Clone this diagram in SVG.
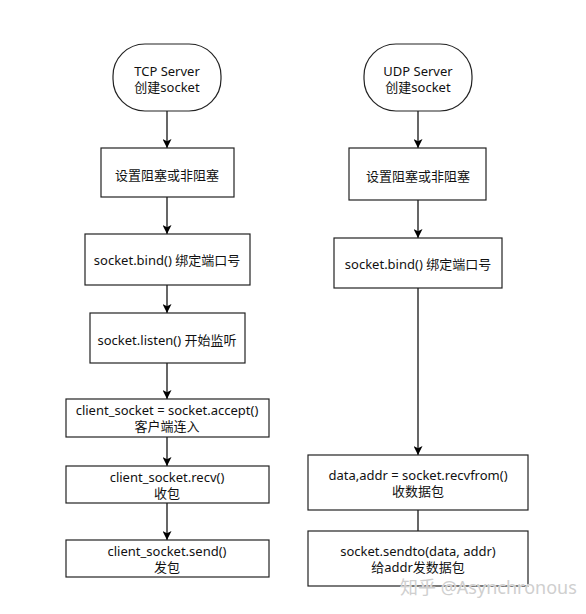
<svg xmlns="http://www.w3.org/2000/svg" width="586" height="614" viewBox="0 0 586 614">
<style>
.n{fill:#fff;stroke:#222;stroke-width:1.2}
.t{font-family:"Noto Sans","Noto Sans CJK SC",sans-serif;font-size:13px;fill:#111;text-anchor:middle;dominant-baseline:central}
.c{stroke:#000;stroke-width:1.2;fill:none}
.wm{font-family:"Noto Sans","Noto Sans CJK SC",sans-serif;font-size:18px;fill:#cfcfcf;stroke:#fff;stroke-width:0.6;paint-order:stroke}
</style>
<defs>
<marker id="ah" viewBox="0 0 10 10" refX="10" refY="5" markerWidth="9" markerHeight="9" markerUnits="userSpaceOnUse" orient="auto">
<path d="M0,0 L10,5 L0,10 L2.5,5 z" fill="#000"/>
</marker>
</defs>
<rect width="586" height="614" fill="#fff"/>
<g id="connectors">
<line class="c" x1="167" y1="111" x2="167" y2="148" marker-end="url(#ah)"/>
<line class="c" x1="167" y1="197" x2="167" y2="234" marker-end="url(#ah)"/>
<line class="c" x1="167" y1="285" x2="167" y2="313" marker-end="url(#ah)"/>
<line class="c" x1="167" y1="363" x2="167" y2="399" marker-end="url(#ah)"/>
<line class="c" x1="167" y1="437" x2="167" y2="466" marker-end="url(#ah)"/>
<line class="c" x1="167" y1="503" x2="167" y2="540" marker-end="url(#ah)"/>
<line class="c" x1="418" y1="111" x2="418" y2="148" marker-end="url(#ah)"/>
<line class="c" x1="418" y1="200" x2="418" y2="238" marker-end="url(#ah)"/>
<line class="c" x1="418" y1="288" x2="418" y2="455" marker-end="url(#ah)"/>
<line class="c" x1="418" y1="510" x2="418" y2="531"/>
</g>
<g id="tcp-start">
<rect class="n" x="113" y="44" width="108" height="67" rx="32" ry="32"/>
<text class="t" x="167" y="71">TCP Server</text>
<text class="t" x="167" y="87">创建socket</text>
</g>
<g id="tcp-block">
<rect class="n" x="101" y="148" width="133" height="49"/>
<text class="t" x="167" y="175">设置阻塞或非阻塞</text>
</g>
<g id="tcp-bind">
<rect class="n" x="85" y="234" width="165" height="51"/>
<text class="t" x="167" y="260">socket.bind() 绑定端口号</text>
</g>
<g id="tcp-listen">
<rect class="n" x="90" y="313" width="155" height="50"/>
<text class="t" x="167" y="340">socket.listen() 开始监听</text>
</g>
<g id="tcp-accept">
<rect class="n" x="66" y="399" width="203" height="38"/>
<text class="t" x="167" y="410">client_socket = socket.accept()</text>
<text class="t" x="167" y="426">客户端连入</text>
</g>
<g id="tcp-recv">
<rect class="n" x="66" y="466" width="203" height="37"/>
<text class="t" x="167" y="477">client_socket.recv()</text>
<text class="t" x="167" y="493">收包</text>
</g>
<g id="tcp-send">
<rect class="n" x="66" y="540" width="203" height="37"/>
<text class="t" x="167" y="551">client_socket.send()</text>
<text class="t" x="167" y="567">发包</text>
</g>
<g id="udp-start">
<rect class="n" x="364" y="44" width="108" height="67" rx="32" ry="32"/>
<text class="t" x="418" y="71">UDP Server</text>
<text class="t" x="418" y="87">创建socket</text>
</g>
<g id="udp-block">
<rect class="n" x="349" y="148" width="137" height="52"/>
<text class="t" x="418" y="176">设置阻塞或非阻塞</text>
</g>
<g id="udp-bind">
<rect class="n" x="334" y="238" width="168" height="50"/>
<text class="t" x="418" y="264">socket.bind() 绑定端口号</text>
</g>
<g id="udp-recvfrom">
<rect class="n" x="308" y="455" width="220" height="55"/>
<text class="t" x="418" y="475">data,addr = socket.recvfrom()</text>
<text class="t" x="418" y="491">收数据包</text>
</g>
<g id="udp-sendto">
<rect class="n" x="308" y="531" width="220" height="55"/>
<text class="t" x="418" y="551">socket.sendto(data, addr)</text>
<text class="t" x="418" y="567">给addr发数据包</text>
</g>
<text class="wm" x="400" y="594">知乎 @Asynchronous</text>
</svg>
